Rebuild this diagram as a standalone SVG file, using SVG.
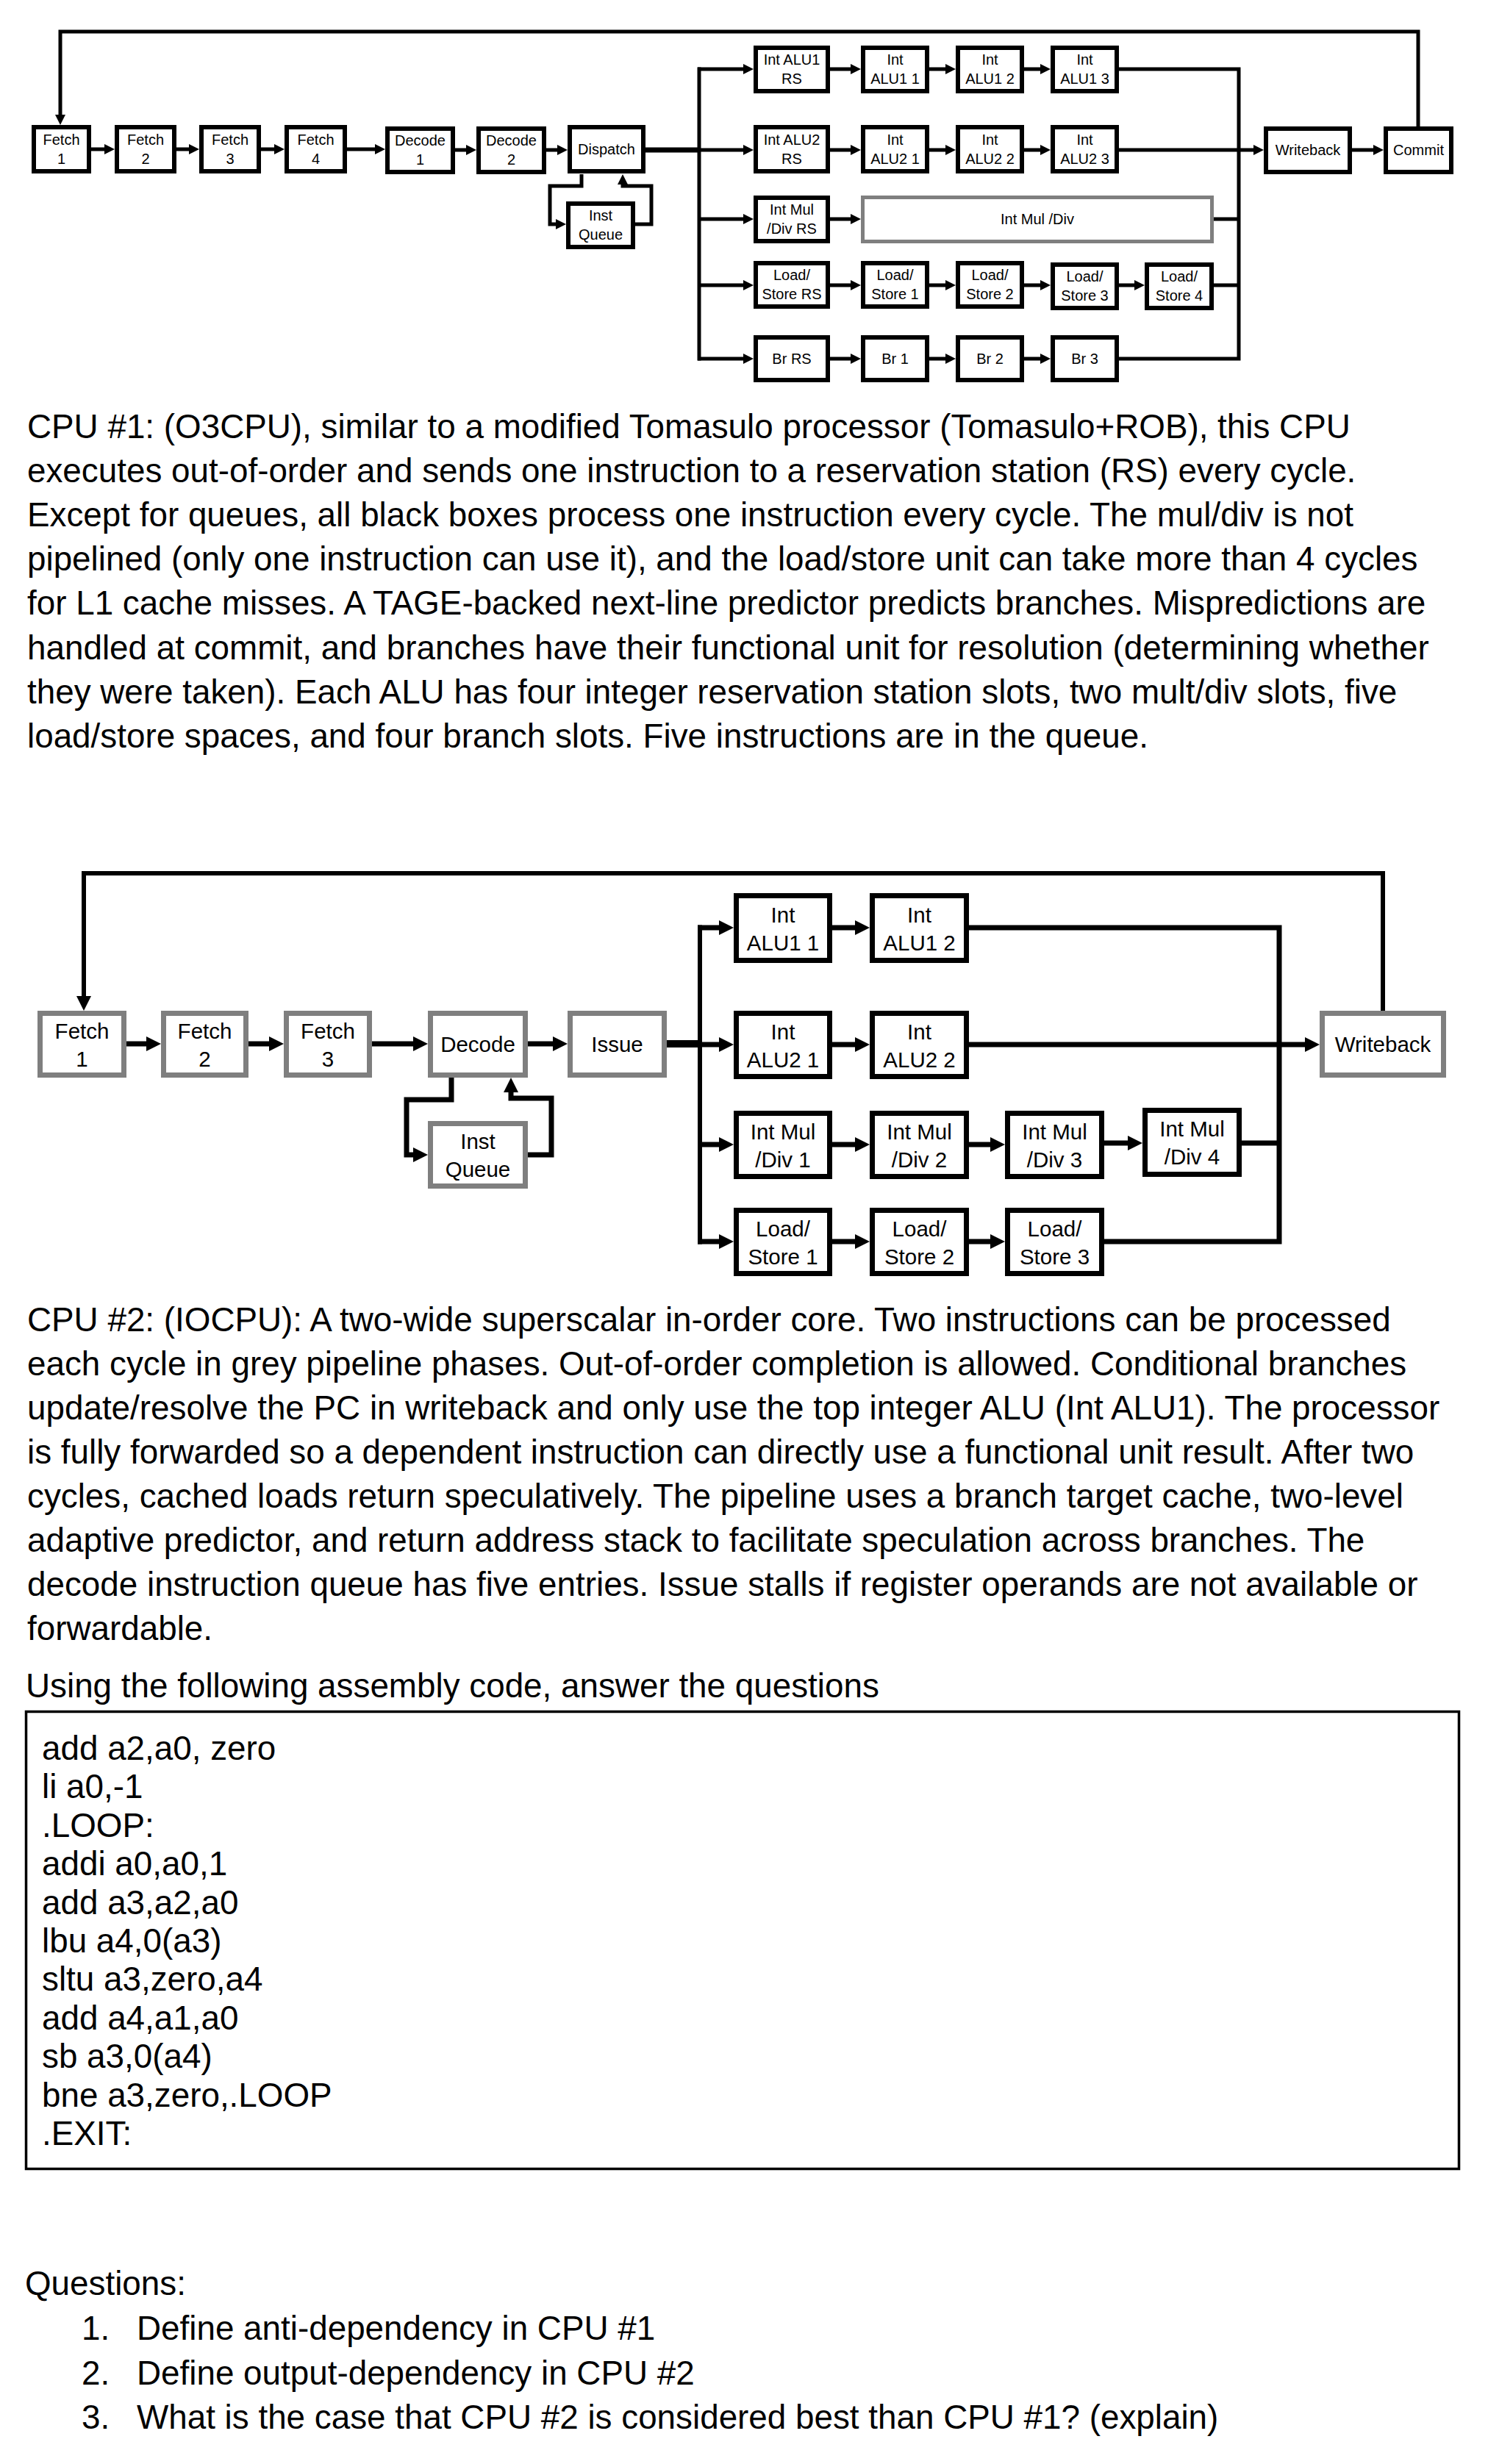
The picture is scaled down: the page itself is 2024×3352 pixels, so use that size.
<svg xmlns="http://www.w3.org/2000/svg" width="2024" height="3352" viewBox="0 0 2024 3352">
<style>
.b1{fill:#fff;stroke:#000;stroke-width:6}
.g1{fill:#fff;stroke:#7f7f7f;stroke-width:5}
.b2{fill:#fff;stroke:#000;stroke-width:7}
.g2{fill:#fff;stroke:#7f7f7f;stroke-width:7}
.l1{fill:none;stroke:#000;stroke-width:5;stroke-linejoin:miter}
.l2{fill:none;stroke:#000;stroke-width:7;stroke-linejoin:miter}
.t1{font-family:"Liberation Sans",Arial,sans-serif;font-size:20px;text-anchor:middle;fill:#000}
.t2{font-family:"Liberation Sans",Arial,sans-serif;font-size:29.5px;text-anchor:middle;fill:#000}
.p{font-family:"Liberation Sans",Arial,sans-serif;font-size:45.8px;fill:#000}
</style>
<defs>
<marker id="a1" markerWidth="14" markerHeight="14" refX="6" refY="7" orient="auto" markerUnits="userSpaceOnUse"><path d="M0,0 L14,7 L0,14 z" fill="#000"/></marker>
<marker id="a2" markerWidth="20" markerHeight="20" refX="8" refY="10" orient="auto" markerUnits="userSpaceOnUse"><path d="M0,0 L20,10 L0,20 z" fill="#000"/></marker>
</defs>
<rect width="2024" height="3352" fill="#fff"/>

<!-- CPU 1 connectors -->
<g id="cpu1-connectors">
<path class="l1" d="M124,203 H148" marker-end="url(#a1)"/>
<path class="l1" d="M240,203 H263" marker-end="url(#a1)"/>
<path class="l1" d="M355,203 H379" marker-end="url(#a1)"/>
<path class="l1" d="M472,203 H516" marker-end="url(#a1)"/>
<path class="l1" d="M619,204 H640" marker-end="url(#a1)"/>
<path class="l1" d="M743,204 H764" marker-end="url(#a1)"/>
<path class="l1" d="M878,204 H951" style="stroke-width:7"/>
<path class="l1" d="M951,91.5 V490.5"/>
<path class="l1" d="M949,94 H1017" marker-end="url(#a1)"/>
<path class="l1" d="M951,204 H1017" marker-end="url(#a1)"/>
<path class="l1" d="M951,298 H1017" marker-end="url(#a1)"/>
<path class="l1" d="M951,388 H1017" marker-end="url(#a1)"/>
<path class="l1" d="M949,488 H1017" marker-end="url(#a1)"/>
<path class="l1" d="M1129,94 H1163" marker-end="url(#a1)"/>
<path class="l1" d="M1264,94 H1292" marker-end="url(#a1)"/>
<path class="l1" d="M1393,94 H1421" marker-end="url(#a1)"/>
<path class="l1" d="M1129,204 H1163" marker-end="url(#a1)"/>
<path class="l1" d="M1264,204 H1292" marker-end="url(#a1)"/>
<path class="l1" d="M1393,204 H1421" marker-end="url(#a1)"/>
<path class="l1" d="M1129,298 H1163" marker-end="url(#a1)"/>
<path class="l1" d="M1129,388 H1163" marker-end="url(#a1)"/>
<path class="l1" d="M1264,388 H1292" marker-end="url(#a1)"/>
<path class="l1" d="M1393,388 H1421" marker-end="url(#a1)"/>
<path class="l1" d="M1522,388 H1549" marker-end="url(#a1)"/>
<path class="l1" d="M1129,488 H1163" marker-end="url(#a1)"/>
<path class="l1" d="M1264,488 H1292" marker-end="url(#a1)"/>
<path class="l1" d="M1393,488 H1421" marker-end="url(#a1)"/>
<path class="l1" d="M1522,94 H1685 V488 H1522"/>
<path class="l1" d="M1651,298 H1685"/>
<path class="l1" d="M1651,388 H1685"/>
<path class="l1" d="M1522,204 H1711" marker-end="url(#a1)"/>
<path class="l1" d="M1839,204 H1874" marker-end="url(#a1)"/>
<path class="l1" d="M1929,172 V43 H82 V162" marker-end="url(#a1)"/>
<path class="l1" d="M791,237 V253 H748 V305 H762" marker-end="url(#a1)"/>
<path class="l1" d="M864,305 H886 V253 H847 V245" marker-end="url(#a1)"/>
</g>

<!-- CPU 1 nodes -->
<g id="c1-fetch1"><rect class="b1" x="46" y="173" width="75" height="60"/><text class="t1" x="83.5" y="197">Fetch</text><text class="t1" x="83.5" y="223">1</text></g>
<g id="c1-fetch2"><rect class="b1" x="159" y="173" width="78" height="60"/><text class="t1" x="198" y="197">Fetch</text><text class="t1" x="198" y="223">2</text></g>
<g id="c1-fetch3"><rect class="b1" x="274" y="173" width="78" height="60"/><text class="t1" x="313" y="197">Fetch</text><text class="t1" x="313" y="223">3</text></g>
<g id="c1-fetch4"><rect class="b1" x="390" y="173" width="79" height="60"/><text class="t1" x="429.5" y="197">Fetch</text><text class="t1" x="429.5" y="223">4</text></g>
<g id="c1-decode1"><rect class="b1" x="527" y="175" width="89" height="59"/><text class="t1" x="571.5" y="198">Decode</text><text class="t1" x="571.5" y="224">1</text></g>
<g id="c1-decode2"><rect class="b1" x="651" y="175" width="89" height="59"/><text class="t1" x="695.5" y="198">Decode</text><text class="t1" x="695.5" y="224">2</text></g>
<g id="c1-dispatch"><rect class="b1" x="775" y="173" width="100" height="60"/><text class="t1" x="825" y="210">Dispatch</text></g>
<g id="c1-instq"><rect class="b1" x="773" y="277" width="88" height="59"/><text class="t1" x="817" y="300">Inst</text><text class="t1" x="817" y="326">Queue</text></g>

<g id="c1-alu1rs"><rect class="b1" x="1028" y="65" width="98" height="59"/><text class="t1" x="1077" y="88">Int ALU1</text><text class="t1" x="1077" y="114">RS</text></g>
<g id="c1-alu11"><rect class="b1" x="1174" y="65" width="87" height="59"/><text class="t1" x="1217.5" y="88">Int</text><text class="t1" x="1217.5" y="114">ALU1 1</text></g>
<g id="c1-alu12"><rect class="b1" x="1303" y="65" width="87" height="59"/><text class="t1" x="1346.5" y="88">Int</text><text class="t1" x="1346.5" y="114">ALU1 2</text></g>
<g id="c1-alu13"><rect class="b1" x="1432" y="65" width="87" height="59"/><text class="t1" x="1475.5" y="88">Int</text><text class="t1" x="1475.5" y="114">ALU1 3</text></g>

<g id="c1-alu2rs"><rect class="b1" x="1028" y="173" width="98" height="60"/><text class="t1" x="1077" y="197">Int ALU2</text><text class="t1" x="1077" y="223">RS</text></g>
<g id="c1-alu21"><rect class="b1" x="1174" y="173" width="87" height="60"/><text class="t1" x="1217.5" y="197">Int</text><text class="t1" x="1217.5" y="223">ALU2 1</text></g>
<g id="c1-alu22"><rect class="b1" x="1303" y="173" width="87" height="60"/><text class="t1" x="1346.5" y="197">Int</text><text class="t1" x="1346.5" y="223">ALU2 2</text></g>
<g id="c1-alu23"><rect class="b1" x="1432" y="173" width="87" height="60"/><text class="t1" x="1475.5" y="197">Int</text><text class="t1" x="1475.5" y="223">ALU2 3</text></g>

<g id="c1-mulrs"><rect class="b1" x="1028" y="269" width="98" height="59"/><text class="t1" x="1077" y="292">Int Mul</text><text class="t1" x="1077" y="318">/Div RS</text></g>
<g id="c1-muldiv"><rect class="g1" x="1173.5" y="268.5" width="475" height="60"/><text class="t1" x="1411" y="305">Int Mul /Div</text></g>

<g id="c1-lsrs"><rect class="b1" x="1028" y="358" width="98" height="59"/><text class="t1" x="1077" y="381">Load/</text><text class="t1" x="1077" y="407">Store RS</text></g>
<g id="c1-ls1"><rect class="b1" x="1174" y="358" width="87" height="59"/><text class="t1" x="1217.5" y="381">Load/</text><text class="t1" x="1217.5" y="407">Store 1</text></g>
<g id="c1-ls2"><rect class="b1" x="1303" y="358" width="87" height="59"/><text class="t1" x="1346.5" y="381">Load/</text><text class="t1" x="1346.5" y="407">Store 2</text></g>
<g id="c1-ls3"><rect class="b1" x="1432" y="360" width="87" height="59"/><text class="t1" x="1475.5" y="383">Load/</text><text class="t1" x="1475.5" y="409">Store 3</text></g>
<g id="c1-ls4"><rect class="b1" x="1560" y="360" width="88" height="59"/><text class="t1" x="1604" y="383">Load/</text><text class="t1" x="1604" y="409">Store 4</text></g>

<g id="c1-brrs"><rect class="b1" x="1028" y="459" width="98" height="58"/><text class="t1" x="1077" y="495">Br RS</text></g>
<g id="c1-br1"><rect class="b1" x="1174" y="459" width="87" height="58"/><text class="t1" x="1217.5" y="495">Br 1</text></g>
<g id="c1-br2"><rect class="b1" x="1303" y="459" width="87" height="58"/><text class="t1" x="1346.5" y="495">Br 2</text></g>
<g id="c1-br3"><rect class="b1" x="1432" y="459" width="87" height="58"/><text class="t1" x="1475.5" y="495">Br 3</text></g>

<g id="c1-writeback"><rect class="b1" x="1722" y="175" width="114" height="59"/><text class="t1" x="1779" y="211">Writeback</text></g>
<g id="c1-commit"><rect class="b1" x="1885" y="175" width="89" height="59"/><text class="t1" x="1929.5" y="211">Commit</text></g>

<!-- CPU 1 description -->
<g id="cpu1-text">
<text class="p" x="37" y="596">CPU #1: (O3CPU), similar to a modified Tomasulo processor (Tomasulo+ROB), this CPU</text>
<text class="p" x="37" y="656">executes out-of-order and sends one instruction to a reservation station (RS) every cycle.</text>
<text class="p" x="37" y="716">Except for queues, all black boxes process one instruction every cycle. The mul/div is not</text>
<text class="p" x="37" y="776">pipelined (only one instruction can use it), and the load/store unit can take more than 4 cycles</text>
<text class="p" x="37" y="836">for L1 cache misses. A TAGE-backed next-line predictor predicts branches. Mispredictions are</text>
<text class="p" x="37" y="897">handled at commit, and branches have their functional unit for resolution (determining whether</text>
<text class="p" x="37" y="957">they were taken). Each ALU has four integer reservation station slots, two mult/div slots, five</text>
<text class="p" x="37" y="1017">load/store spaces, and four branch slots. Five instructions are in the queue.</text>
</g>

<!-- CPU 2 connectors -->
<g id="cpu2-connectors">
<path class="l2" d="M172,1420 H207" marker-end="url(#a2)"/>
<path class="l2" d="M338,1420 H374" marker-end="url(#a2)"/>
<path class="l2" d="M506,1420 H570" marker-end="url(#a2)"/>
<path class="l2" d="M718,1420 H760" marker-end="url(#a2)"/>
<path class="l2" d="M907,1420 H952" style="stroke-width:10"/>
<path class="l2" d="M952,1258.5 V1692.5" style="stroke-width:6"/>
<path class="l2" d="M949,1262 H986" marker-end="url(#a2)"/>
<path class="l2" d="M952,1421 H986" marker-end="url(#a2)"/>
<path class="l2" d="M952,1557 H986" marker-end="url(#a2)"/>
<path class="l2" d="M949,1689 H986" marker-end="url(#a2)"/>
<path class="l2" d="M1132,1262 H1171" marker-end="url(#a2)"/>
<path class="l2" d="M1132,1421 H1171" marker-end="url(#a2)"/>
<path class="l2" d="M1132,1557 H1171" marker-end="url(#a2)"/>
<path class="l2" d="M1318,1557 H1355" marker-end="url(#a2)"/>
<path class="l2" d="M1502,1555 H1542" marker-end="url(#a2)"/>
<path class="l2" d="M1132,1689 H1171" marker-end="url(#a2)"/>
<path class="l2" d="M1318,1689 H1355" marker-end="url(#a2)"/>
<path class="l2" d="M1318,1262 H1740 V1689 H1502"/>
<path class="l2" d="M1689,1555 H1740"/>
<path class="l2" d="M1318,1421 H1783" marker-end="url(#a2)"/>
<path class="l2" d="M1881,1375 V1188 H114 V1363" marker-end="url(#a2)" style="stroke-width:6"/>
<path class="l2" d="M614,1466 V1496 H553 V1571 H570" marker-end="url(#a2)"/>
<path class="l2" d="M718,1571 H750 V1494 H695 V1478" marker-end="url(#a2)"/>
</g>

<!-- CPU 2 nodes -->
<g id="c2-fetch1"><rect class="g2" x="54.5" y="1378.5" width="114" height="84"/><text class="t2" x="111.5" y="1413">Fetch</text><text class="t2" x="111.5" y="1451">1</text></g>
<g id="c2-fetch2"><rect class="g2" x="222.5" y="1378.5" width="112" height="84"/><text class="t2" x="278.5" y="1413">Fetch</text><text class="t2" x="278.5" y="1451">2</text></g>
<g id="c2-fetch3"><rect class="g2" x="389.5" y="1378.5" width="113" height="84"/><text class="t2" x="446" y="1413">Fetch</text><text class="t2" x="446" y="1451">3</text></g>
<g id="c2-decode"><rect class="g2" x="585.5" y="1378.5" width="129" height="84"/><text class="t2" x="650" y="1431">Decode</text></g>
<g id="c2-issue"><rect class="g2" x="775.5" y="1378.5" width="128" height="84"/><text class="t2" x="839.5" y="1431">Issue</text></g>
<g id="c2-instq"><rect class="g2" x="585.5" y="1528.5" width="129" height="85"/><text class="t2" x="650" y="1563">Inst</text><text class="t2" x="650" y="1601">Queue</text></g>
<g id="c2-writeback"><rect class="g2" x="1798.5" y="1378.5" width="165" height="84"/><text class="t2" x="1881" y="1431">Writeback</text></g>

<g id="c2-alu11"><rect class="b2" x="1001.5" y="1218.5" width="127" height="88"/><text class="t2" x="1065" y="1255">Int</text><text class="t2" x="1065" y="1293">ALU1 1</text></g>
<g id="c2-alu12"><rect class="b2" x="1186.5" y="1218.5" width="128" height="88"/><text class="t2" x="1250.5" y="1255">Int</text><text class="t2" x="1250.5" y="1293">ALU1 2</text></g>
<g id="c2-alu21"><rect class="b2" x="1001.5" y="1378.5" width="127" height="86"/><text class="t2" x="1065" y="1414">Int</text><text class="t2" x="1065" y="1452">ALU2 1</text></g>
<g id="c2-alu22"><rect class="b2" x="1186.5" y="1378.5" width="128" height="86"/><text class="t2" x="1250.5" y="1414">Int</text><text class="t2" x="1250.5" y="1452">ALU2 2</text></g>
<g id="c2-mul1"><rect class="b2" x="1001.5" y="1514.5" width="127" height="86"/><text class="t2" x="1065" y="1550">Int Mul</text><text class="t2" x="1065" y="1588">/Div 1</text></g>
<g id="c2-mul2"><rect class="b2" x="1186.5" y="1514.5" width="128" height="86"/><text class="t2" x="1250.5" y="1550">Int Mul</text><text class="t2" x="1250.5" y="1588">/Div 2</text></g>
<g id="c2-mul3"><rect class="b2" x="1370.5" y="1514.5" width="128" height="86"/><text class="t2" x="1434.5" y="1550">Int Mul</text><text class="t2" x="1434.5" y="1588">/Div 3</text></g>
<g id="c2-mul4"><rect class="b2" x="1557.5" y="1510.5" width="128" height="87"/><text class="t2" x="1621.5" y="1546">Int Mul</text><text class="t2" x="1621.5" y="1584">/Div 4</text></g>
<g id="c2-ls1"><rect class="b2" x="1001.5" y="1646.5" width="127" height="86"/><text class="t2" x="1065" y="1682">Load/</text><text class="t2" x="1065" y="1720">Store 1</text></g>
<g id="c2-ls2"><rect class="b2" x="1186.5" y="1646.5" width="128" height="86"/><text class="t2" x="1250.5" y="1682">Load/</text><text class="t2" x="1250.5" y="1720">Store 2</text></g>
<g id="c2-ls3"><rect class="b2" x="1370.5" y="1646.5" width="128" height="86"/><text class="t2" x="1434.5" y="1682">Load/</text><text class="t2" x="1434.5" y="1720">Store 3</text></g>

<!-- CPU 2 description -->
<g id="cpu2-text">
<text class="p" x="37" y="1811">CPU #2: (IOCPU): A two-wide superscalar in-order core. Two instructions can be processed</text>
<text class="p" x="37" y="1871">each cycle in grey pipeline phases. Out-of-order completion is allowed. Conditional branches</text>
<text class="p" x="37" y="1931">update/resolve the PC in writeback and only use the top integer ALU (Int ALU1). The processor</text>
<text class="p" x="37" y="1991">is fully forwarded so a dependent instruction can directly use a functional unit result. After two</text>
<text class="p" x="37" y="2051">cycles, cached loads return speculatively. The pipeline uses a branch target cache, two-level</text>
<text class="p" x="37" y="2111">adaptive predictor, and return address stack to facilitate speculation across branches. The</text>
<text class="p" x="37" y="2171">decode instruction queue has five entries. Issue stalls if register operands are not available or</text>
<text class="p" x="37" y="2231">forwardable.</text>
</g>

<!-- Code -->
<g id="code">
<text class="p" x="35" y="2309">Using the following assembly code, answer the questions</text>
<rect x="35.5" y="2328.5" width="1949" height="622" fill="none" stroke="#000" stroke-width="3.5"/>
<text class="p" x="57" y="2394">add a2,a0, zero</text>
<text class="p" x="57" y="2446">li a0,-1</text>
<text class="p" x="57" y="2499">.LOOP:</text>
<text class="p" x="57" y="2551">addi a0,a0,1</text>
<text class="p" x="57" y="2604">add a3,a2,a0</text>
<text class="p" x="57" y="2656">lbu a4,0(a3)</text>
<text class="p" x="57" y="2708">sltu a3,zero,a4</text>
<text class="p" x="57" y="2761">add a4,a1,a0</text>
<text class="p" x="57" y="2813">sb a3,0(a4)</text>
<text class="p" x="57" y="2866">bne a3,zero,.LOOP</text>
<text class="p" x="57" y="2918">.EXIT:</text>
</g>

<!-- Questions -->
<g id="questions">
<text class="p" x="34" y="3122">Questions:</text>
<text class="p" x="111" y="3183">1.</text><text class="p" x="186" y="3183">Define anti-dependency in CPU #1</text>
<text class="p" x="111" y="3244">2.</text><text class="p" x="186" y="3244">Define output-dependency in CPU #2</text>
<text class="p" x="111" y="3304">3.</text><text class="p" x="186" y="3304">What is the case that CPU #2 is considered best than CPU #1? (explain)</text>
</g>
</svg>
